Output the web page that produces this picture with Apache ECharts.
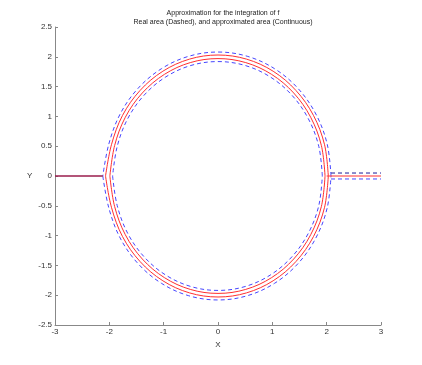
<!DOCTYPE html>
<html>
<head>
<meta charset="utf-8">
<script src="https://cdn.jsdelivr.net/npm/echarts@6/dist/echarts.min.js"></script>
<style>html,body{margin:0;padding:0;background:#fff}#c{width:422px;height:365px}</style>
</head>
<body>
<div id="c"></div>
<script>
// Axis ticks
const xTicks = [-3, -2, -1, 0, 1, 2, 3];
const yTicks = [-2.5, -2, -1.5, -1, -0.5, 0, 0.5, 1, 1.5, 2, 2.5];

// Continuous (approximated area) outer curve: right node -> top -> left node -> bottom -> right node
const redOuterX = [2.03,1.961,1.758,1.435,1.015,0.525,0,-0.525,-1.015,-1.435,-1.758,-1.961,-2.07,-1.961,-1.758,-1.435,-1.015,-0.525,0,0.525,1.015,1.435,1.758,1.961,2.03];
const redOuterY = [0,0.525,1.015,1.435,1.758,1.961,2.03,1.961,1.758,1.435,1.015,0.525,0,-0.525,-1.015,-1.435,-1.758,-1.961,-2.03,-1.961,-1.758,-1.435,-1.015,-0.525,0];
// Continuous inner curve
const redInnerX = [1.97,1.903,1.706,1.393,0.985,0.510,0,-0.510,-0.985,-1.393,-1.706,-1.903,-1.99,-1.903,-1.706,-1.393,-0.985,-0.510,0,0.510,0.985,1.393,1.706,1.903,1.97];
const redInnerY = [0,0.510,0.985,1.393,1.706,1.903,1.97,1.903,1.706,1.393,0.985,0.510,0,-0.510,-0.985,-1.393,-1.706,-1.903,-1.97,-1.903,-1.706,-1.393,-0.985,-0.510,0];
// Dashed (real area) outer curve
const blueOuterX = [2.08,2.009,1.801,1.471,1.040,0.538,0,-0.538,-1.040,-1.471,-1.801,-2.009,-2.12,-2.009,-1.801,-1.471,-1.040,-0.538,0,0.538,1.040,1.471,1.801,2.009,2.08];
const blueOuterY = [0,0.538,1.040,1.471,1.801,2.009,2.08,2.009,1.801,1.471,1.040,0.538,0,-0.538,-1.040,-1.471,-1.801,-2.009,-2.08,-2.009,-1.801,-1.471,-1.040,-0.538,0];
// Dashed inner curve
const blueInnerX = [1.92,1.855,1.663,1.358,0.960,0.497,0,-0.497,-0.960,-1.358,-1.663,-1.855,-1.94,-1.855,-1.663,-1.358,-0.960,-0.497,0,0.497,0.960,1.358,1.663,1.855,1.92];
const blueInnerY = [0,0.497,0.960,1.358,1.663,1.855,1.92,1.855,1.663,1.358,0.960,0.497,0,-0.497,-0.960,-1.358,-1.663,-1.855,-1.92,-1.855,-1.663,-1.358,-0.960,-0.497,0];

// Straight parts
const leftLineX = [-3, -2.12];
const leftLineY = [0, 0];
const rightRedX = [2.0, 3];
const rightRedY = [0, 0];
const rightDashUpX = [2.08, 3];
const rightDashUpY = [0.05, 0.05];
const rightDashLowX = [2.08, 3];
const rightDashLowY = [-0.05, -0.05];

const zip = (xs, ys) => xs.map((x, i) => [x, ys[i]]);
const font = 'Liberation Sans, Arial, Helvetica, sans-serif';

function line(pts, color, type, width, smooth) {
  return {
    type: 'line', data: pts, showSymbol: false, symbol: 'none',
    smooth: smooth ? 0.35 : false,
    lineStyle: { color: color, width: width || 1, type: type || 'solid' },
    silent: true, animation: false, z: 2
  };
}
// each closed curve drawn as two smooth halves so the nodes keep their corners
function halves(xs, ys, color, type) {
  const pts = zip(xs, ys);
  return [line(pts.slice(0, 13), color, type, 1, true), line(pts.slice(12), color, type, 1, true)];
}

const chart = echarts.init(document.getElementById('c'), null, { renderer: 'canvas' });
chart.setOption({
  animation: false,
  backgroundColor: '#fff',
  title: {
    text: 'Approximation for the integration of f\nReal area (Dashed), and approximated area (Continuous)',
    left: 218, top: 4, textAlign: 'center',
    textStyle: { fontFamily: font, fontSize: 7, fontWeight: 'normal', color: '#222', lineHeight: 9 }
  },
  grid: { left: 55, right: 41, top: 27, bottom: 40 },
  xAxis: {
    type: 'value', min: -3, max: 3, interval: 1,
    name: 'X', nameLocation: 'middle', nameGap: 14,
    nameTextStyle: { fontFamily: font, fontSize: 8, color: '#333' },
    axisLine: { show: true, onZero: false, lineStyle: { color: '#888', width: 1 } },
    axisTick: { show: true, inside: true, length: 3, lineStyle: { color: '#888' } },
    axisLabel: { fontFamily: font, fontSize: 8, color: '#333', margin: 3 },
    splitLine: { show: false }
  },
  yAxis: {
    type: 'value', min: -2.5, max: 2.5, interval: 0.5,
    name: 'Y', nameLocation: 'middle', nameGap: 21, nameRotate: 0,
    nameTextStyle: { fontFamily: font, fontSize: 8, color: '#333' },
    axisLine: { show: true, onZero: false, lineStyle: { color: '#888', width: 1 } },
    axisTick: { show: true, inside: true, length: 3, lineStyle: { color: '#888' } },
    axisLabel: { fontFamily: font, fontSize: 8, color: '#333', margin: 3 },
    splitLine: { show: false }
  },
  series: [
    ...halves(blueOuterX, blueOuterY, '#4646ff', [4, 3]),
    ...halves(blueInnerX, blueInnerY, '#4646ff', [4, 3]),
    line(zip(rightDashUpX, rightDashUpY), '#1a1a9a', [4, 3], 1),
    line(zip(rightDashLowX, rightDashLowY), '#4646ff', [4, 3], 1),
    ...halves(redOuterX, redOuterY, '#ff3030', 'solid'),
    ...halves(redInnerX, redInnerY, '#ff3030', 'solid'),
    line(zip(rightRedX, rightRedY), '#ff3030', 'solid', 1),
    line(zip(leftLineX, leftLineY), '#9a1c4c', 'solid', 1.4)
  ]
});
</script>
</body>
</html>
